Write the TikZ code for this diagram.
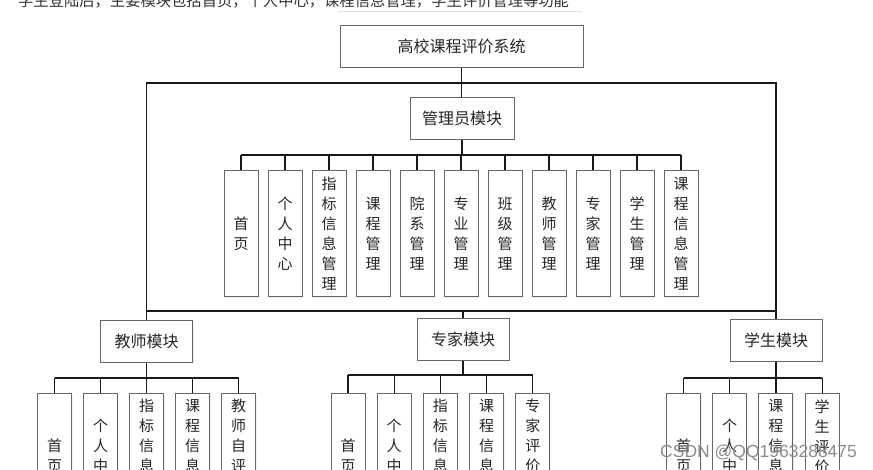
\documentclass[tikz,border=0pt]{standalone}
\usepackage{fontspec}
\setmainfont{Noto Sans CJK SC}
\newfontfamily\wmfont{Liberation Sans}
\usetikzlibrary{shadows}

\begin{document}
\begin{tikzpicture}[x=1pt, y=-1pt,
        box/.style={draw=black!60, line width=1pt, fill=white, inner sep=0pt, text=black!85,
            drop shadow={opacity=0.12, shadow xshift=1pt, shadow yshift=-1pt}},
        modbox/.style={box, minimum width=92, minimum height=42, font=\fontsize{16}{16}\selectfont},
        leafbox/.style={box, minimum width=34, minimum height=126, align=center, font=\fontsize{15}{20}\selectfont},
        link/.style={black!90, line width=1.2pt}]
        \clip (0,0) rectangle (873,469);

        % Text above the chart
        \node[anchor=base west, inner sep=0pt, text=black!80, font=\fontsize{15.3}{15}\selectfont] (intro) at (18,6)
            {学生登陆后，主要模块包括首页，个人中心，课程信息管理，学生评价管理等功能};
        \draw[black!12, line width=0.8pt] (338,11) -- (582,11);

        % System and modules
        \node[modbox, minimum width=243] (sys) at (461.5,46) {高校课程评价系统};
        \node[modbox, minimum width=104] (admin) at (462,118) {管理员模块};
        \node[modbox] (teacher) at (146.5,341) {教师模块};
        \node[modbox] (expert) at (463,339) {专家模块};
        \node[modbox] (student) at (776,340) {学生模块};

        % Frame round the admin part
        \coordinate (ftl) at (146.5,83);
        \coordinate (ftr) at (776,83);
        \coordinate (fbl) at (146.5,311);
        \coordinate (fbr) at (776,311);
        \draw[link] (teacher.north) -- (ftl) -- (ftr) -- (student.north);
        \draw[link] (fbl) -- (fbr);
        \draw[link] (expert.north) -- (expert.north |- fbl);
        \draw[link] (sys.south) -- (sys.south |- admin.north);

        % Admin functions
        \coordinate (abus) at (462,155);
        \draw[link] (admin.south) -- (abus);
        \foreach \i/\txt in {0/首\\页, 1/个\\人\\中\\心, 2/指\\标\\信\\息\\管\\理, 3/课\\程\\管\\理,
                4/院\\系\\管\\理, 5/专\\业\\管\\理, 6/班\\级\\管\\理, 7/教\\师\\管\\理,
                8/专\\家\\管\\理, 9/学\\生\\管\\理, 10/课\\程\\信\\息\\管\\理}
        {
            \node[leafbox] (adm\i) at (241+44*\i,233.5) {\txt};
            \draw[link] (adm\i.north) -- (adm\i.north |- abus);
        }
        \draw[link] (adm0.north |- abus) -- (adm10.north |- abus);

        % Teacher functions
        \coordinate (tbus) at (146.5,378);
        \draw[link] (teacher.south) -- (tbus);
        \foreach \i/\txt in {0/首\\页, 1/个\\人\\中\\心, 2/指\\标\\信\\息\\管\\理,
                3/课\\程\\信\\息\\管\\理, 4/教\\师\\自\\评\\管\\理}
        {
            \node[leafbox] (tch\i) at (54.5+46*\i,456) {\txt};
            \draw[link] (tch\i.north) -- (tch\i.north |- tbus);
        }
        \draw[link] (tch0.north |- tbus) -- (tch4.north |- tbus);

        % Expert functions
        \coordinate (ebus) at (463,375);
        \draw[link] (expert.south) -- (ebus);
        \foreach \i/\txt in {0/首\\页, 1/个\\人\\中\\心, 2/指\\标\\信\\息\\管\\理,
                3/课\\程\\信\\息\\管\\理, 4/专\\家\\评\\价\\管\\理}
        {
            \node[leafbox] (exp\i) at (348+46.2*\i,456) {\txt};
            \draw[link] (exp\i.north) -- (exp\i.north |- ebus);
        }
        \draw[link] (exp0.north |- ebus) -- (exp4.north |- ebus);

        % Student functions
        \coordinate (sbus) at (776,378);
        \draw[link] (student.south) -- (sbus);
        \foreach \i/\txt in {0/首\\页, 1/个\\人\\中\\心, 2/课\\程\\信\\息\\管\\理, 3/学\\生\\评\\价\\管\\理}
        {
            \node[leafbox] (stu\i) at (683.5+46.2*\i,456) {\txt};
            \draw[link] (stu\i.north) -- (stu\i.north |- sbus);
        }
        \draw[link] (stu0.north |- sbus) -- (stu3.north |- sbus);

        % Watermark
        \node[anchor=base west, inner sep=0pt, text=black!45, font=\wmfont\fontsize{17.5}{18}\selectfont] (mark) at (660,457)
            {CSDN @QQ1963288475};
    \end{tikzpicture}
\end{document}
